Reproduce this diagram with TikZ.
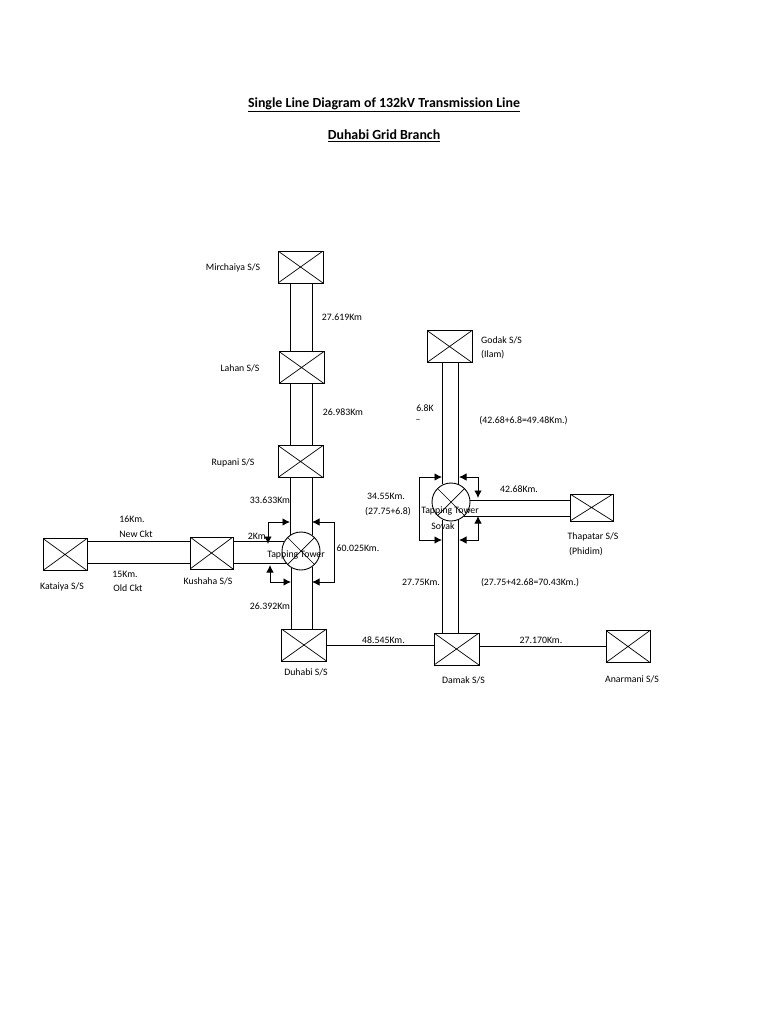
\documentclass[tikz,border=0pt]{standalone}
\usepackage{fontspec}
\setmainfont{Carlito}
\usetikzlibrary{arrows.meta}

\begin{document}
\begin{tikzpicture}[x=1pt,y=-1pt,>={Latex[length=7.5pt,width=7.5pt]},
	station/.style={draw,line width=0.9pt,inner sep=0pt,minimum width=45pt,minimum height=32pt,
		path picture={\draw[line width=0.7pt] (path picture bounding box.north west) -- (path picture bounding box.south east)
			(path picture bounding box.south west) -- (path picture bounding box.north east);}},
	tower/.style={draw,circle,line width=0.9pt,inner sep=0pt,minimum size=38pt,
		path picture={\draw[line width=0.7pt] (path picture bounding box.north west) -- (path picture bounding box.south east)
			(path picture bounding box.south west) -- (path picture bounding box.north east);}},
	lbl/.style={font=\fontsize{9.8}{11}\selectfont,inner sep=0pt},
	ttl/.style={font=\fontsize{13.9}{16}\bfseries\selectfont,inner sep=0pt},
	feeder/.style={line width=0.9pt},
	tap/.style={<->,line width=0.9pt}]
	
	\useasboundingbox (0,0) rectangle (768,1024);
	\fill[white] (0,0) rectangle (768,1024);
	
	% Title
	\node[ttl] (title) at (384,104.5) {\underline{Single Line Diagram of 132kV Transmission Line}};
	\node[ttl] (branch) at (384,136) {\underline{Duhabi Grid Branch}};
	
	% Substations
	\node[station] (mirchaiya) at (300.5,267) {};
	\node[station] (lahan) at (301.5,367.5) {};
	\node[station] (rupani) at (300.5,461.5) {};
	\node[station] (duhabi) at (304,645) {};
	\node[station,minimum width=43pt] (kushaha) at (211.5,553) {};
	\node[station,minimum width=44pt] (kataiya) at (65,554.5) {};
	\node[station] (damak) at (456.5,649) {};
	\node[station,minimum width=44pt] (anarmani) at (628,646.5) {};
	\node[station] (godak) at (449.5,346.5) {};
	\node[station,minimum width=43pt,minimum height=27pt] (thapatar) at (591.5,507.5) {};
	
	% Tapping towers
	\node[tower] (tower) at (301,551) {};
	\node[tower] (sovak) at (451,502) {};
	
	% Double lines, west branch
	\draw[feeder] (tower.122 |- mirchaiya.south) -- (tower.122 |- lahan.north);
	\draw[feeder] (tower.55 |- mirchaiya.south) -- (tower.55 |- lahan.north);
	\draw[feeder] (tower.122 |- lahan.south) -- (tower.122 |- rupani.north);
	\draw[feeder] (tower.55 |- lahan.south) -- (tower.55 |- rupani.north);
	\draw[feeder] (tower.122 |- rupani.south) -- (tower.122);
	\draw[feeder] (tower.55 |- rupani.south) -- (tower.55);
	\draw[feeder] (tower.242) -- (tower.242 |- duhabi.north);
	\draw[feeder] (tower.305) -- (tower.305 |- duhabi.north);
	\draw[feeder] (kushaha.east |- tower.152) -- (tower.152);
	\draw[feeder] (kushaha.east |- tower.219) -- (tower.219);
	\draw[feeder] (kataiya.east |- tower.152) -- (kushaha.west |- tower.152);
	\draw[feeder] (kataiya.east |- tower.219) -- (kushaha.west |- tower.219);
	
	% Double lines, east branch
	\draw[feeder] (sovak.115 |- godak.south) -- (sovak.115);
	\draw[feeder] (sovak.68 |- godak.south) -- (sovak.68);
	\draw[feeder] (sovak.245) -- (sovak.245 |- damak.north);
	\draw[feeder] (sovak.292) -- (sovak.292 |- damak.north);
	\draw[feeder] (sovak.6) -- (thapatar.west |- sovak.6);
	\draw[feeder] (sovak.313) -- (thapatar.west |- sovak.313);
	
	% Single lines
	\draw[feeder] (duhabi.east) -- (damak.west |- duhabi.east);
	\draw[feeder] (damak.east |- anarmani.west) -- (anarmani.west);
	
	% Distance arrows at tower
	\coordinate (tna) at (268,522);
	\coordinate (tnb) at (290,522);
	\coordinate (tnc) at (268,544);
	\coordinate (tea) at (334,522);
	\coordinate (teb) at (312,522);
	\coordinate (tec) at (334,582);
	\coordinate (ted) at (312,582);
	\coordinate (tsa) at (270,582);
	\coordinate (tsb) at (291,582);
	\coordinate (tsc) at (270,565);
	\draw[tap] (tnc) -- (tna) -- (tnb);
	\draw[tap] (teb) -- (tea) -- (tec) -- (ted);
	\draw[tap] (tsc) -- (tsa) -- (tsb);
	
	% Distance arrows at Sovak
	\coordinate (swa) at (419,477);
	\coordinate (swb) at (442,477);
	\coordinate (swc) at (419,540);
	\coordinate (swd) at (442,540);
	\coordinate (sea) at (478,477);
	\coordinate (seb) at (459,477);
	\coordinate (sec) at (478,498);
	\coordinate (sfa) at (478,540);
	\coordinate (sfb) at (459,540);
	\coordinate (sfc) at (478,516);
	\draw[tap] (swb) -- (swa) -- (swc) -- (swd);
	\draw[tap] (seb) -- (sea) -- (sec);
	\draw[tap] (sfb) -- (sfa) -- (sfc);
	
	% Station names
	\node[lbl] (l1) at (233,268) {Mirchaiya S/S};
	\node[lbl] (l2) at (240,368) {Lahan S/S};
	\node[lbl] (l3) at (233,463) {Rupani S/S};
	\node[lbl] (l4) at (62,587) {Kataiya S/S};
	\node[lbl] (l5) at (208,581) {Kushaha S/S};
	\node[lbl] (l6) at (306,672) {Duhabi S/S};
	\node[lbl] (l7) at (463.5,680) {Damak S/S};
	\node[lbl] (l8) at (632,679) {Anarmani S/S};
	\node[lbl,anchor=west] (l9) at (481,340) {Godak S/S};
	\node[lbl,anchor=west] (l10) at (481,355) {(Ilam)};
	\node[lbl] (l11) at (593,537) {Thapatar S/S};
	\node[lbl] (l12) at (586,552) {(Phidim)};
	\node[lbl] (l13) at (296,555) {Tapping Tower};
	\node[lbl] (l14) at (450,511) {Tapping Tower};
	\node[lbl] (l15) at (443,526) {Sovak};
	
	% Distances
	\node[lbl] (d1) at (342,317) {27.619Km};
	\node[lbl] (d2) at (343,412) {26.983Km};
	\node[lbl] (d3) at (270,500) {33.633Km};
	\node[lbl] (d4) at (258,536) {2Km.};
	\node[lbl] (d5) at (358,548) {60.025Km.};
	\node[lbl] (d6) at (270,606) {26.392Km};
	\node[lbl] (d7) at (132,519) {16Km.};
	\node[lbl] (d8) at (136,534) {New Ckt};
	\node[lbl] (d9) at (125,574) {15Km.};
	\node[lbl] (d10) at (128,588) {Old Ckt};
	\node[lbl] (d11) at (383.5,640) {48.545Km.};
	\node[lbl] (d12) at (541,640) {27.170Km.};
	\node[lbl] (d13) at (425,408) {6.8K};
	\node[lbl] (d14) at (418,421) {--};
	\node[lbl] (d15) at (523.5,421) {(42.68+6.8=49.48Km.)};
	\node[lbl] (d16) at (386,496) {34.55Km.};
	\node[lbl] (d17) at (388,512) {(27.75+6.8)};
	\node[lbl] (d18) at (519,489) {42.68Km.};
	\node[lbl] (d19) at (421,582) {27.75Km.};
	\node[lbl] (d20) at (530,583) {(27.75+42.68=70.43Km.)};
	
\end{tikzpicture}
\end{document}
